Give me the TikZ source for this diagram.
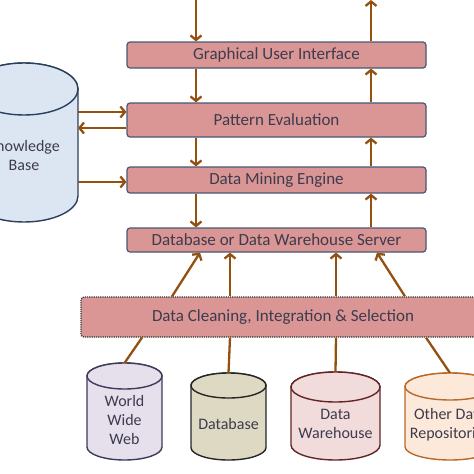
\documentclass[tikz,border=0pt]{standalone}
\usepackage{fontspec}
\setmainfont{Carlito}
\usetikzlibrary{arrows.meta}

\definecolor{txt}{HTML}{3E3B4E}
\definecolor{brownline}{HTML}{94500F}
\definecolor{layerfill}{HTML}{D99694}
\definecolor{layerline}{HTML}{4A5674}
\definecolor{kbfill}{HTML}{DCE6F2}
\definecolor{kbline}{HTML}{2A3F5C}
\definecolor{webfill}{HTML}{E5E0EC}
\definecolor{webline}{HTML}{3F3A5A}
\definecolor{dbfill}{HTML}{DDD9C3}
\definecolor{dbline}{HTML}{262626}
\definecolor{dwfill}{HTML}{F2DCDB}
\definecolor{dwline}{HTML}{632523}
\definecolor{orfill}{HTML}{FDE9D9}
\definecolor{orline}{HTML}{B8692A}

\begin{document}
\begin{tikzpicture}[x=1pt,y=-1pt]

\def\lx{196}
\def\rx{371}

\tikzset{
        every node/.style={font=\fontsize{17}{19}\selectfont,text=txt},
        flow/.style={draw=brownline,line width=2.3pt,-{Straight Barb[length=4.5pt,width=11pt]}},
        link/.style={draw=brownline,line width=2.3pt},
        layer/.style={draw=layerline,fill=layerfill,rounded corners=3pt,line width=1.2pt,minimum width=299pt,inner sep=0pt},
        store/.style={line width=1.4pt},
        storetext/.style={align=center,inner sep=0pt,font=\fontsize{16}{19}\selectfont}
}

% drum: name, x, top, bottom, half width, end radius, colours
\def\drum#1#2#3#4#5#6#7{
     \path[store,#7] (#2-#5,#3+#6) -- (#2-#5,#4-#6) arc[start angle=180,end angle=360,x radius=#5pt,y radius=#6pt]
          -- (#2+#5,#3+#6) arc[start angle=0,end angle=180,x radius=#5pt,y radius=#6pt] -- cycle;
     \path[store,#7] (#2,#3+#6) ellipse[x radius=#5pt,y radius=#6pt];
     \coordinate (#1 top) at (#2,#3);
     \coordinate (#1 east) at (#2+#5,#3/2+#4/2);
}

\useasboundingbox (0,0) rectangle (474,474);
\clip (0,0) rectangle (474,474);

% layers
\node[layer,minimum height=26pt] (GUI) at (276.5,55) {Graphical User Interface};
\node[layer,minimum height=34pt] (PE) at (276.5,120) {Pattern Evaluation};
\node[layer,minimum height=26pt] (DME) at (276.5,180) {Data Mining Engine};
\node[layer,minimum height=24pt] (DWS) at (276.5,240) {Database or Data Warehouse Server};
\node[layer,densely dotted,draw=black!80,minimum width=404pt,minimum height=40pt] (DC) at (283,317) {Data Cleaning, Integration \& Selection};

% stores
\drum{KB}{24}{63}{222}{54}{26}{fill=kbfill,draw=kbline}
\drum{WWW}{124.5}{363}{460}{37.5}{13}{fill=webfill,draw=webline}
\drum{DB}{228.5}{373}{460}{37.5}{12.5}{fill=dbfill,draw=dbline}
\drum{DW}{335.5}{372}{460}{44.5}{15}{fill=dwfill,draw=dwline}
\drum{OR}{450}{373}{460}{45}{13.5}{fill=orfill,draw=orline}

\node[storetext] (KB) at (24,156) {Knowledge\\Base};
\node[storetext] (WWW) at (124.5,420) {World\\Wide\\Web};
\node[storetext] (DB) at (228.5,424) {Database};
\node[storetext] (DW) at (335.5,424) {Data\\Warehouse};
\node[storetext] (OR) at (450,425) {Other Data\\Repositories};

\coordinate (L) at (\lx,0);
\coordinate (R) at (\rx,0);

% down the left
\draw[flow] (L) -- (GUI.north -| L);
\draw[flow] (GUI.south -| L) -- (PE.north -| L);
\draw[flow] (PE.south -| L) -- (DME.north -| L);
\draw[flow] (DME.south -| L) -- (DWS.north -| L);

% up the right
\draw[flow] (DWS.north -| R) -- (DME.south -| R);
\draw[flow] (DME.north -| R) -- (PE.south -| R);
\draw[flow] (PE.north -| R) -- (GUI.south -| R);
\draw[flow] (GUI.north -| R) -- (R);

% knowledge base
\draw[flow] (KB east |- 0,112) -- (PE.west |- 0,112);
\draw[flow] (PE.west |- 0,128) -- (KB east |- 0,128);
\draw[flow] (KB east |- 0,182) -- (DME.west |- 0,182);

% cleaning to server
\draw[flow] (DC.north -| 172,0) -- (DWS.south -| 200,0);
\draw[flow] (DC.north -| 230,0) -- (DWS.south -| 230,0);
\draw[flow] (DC.north -| 336,0) -- (DWS.south -| 336,0);
\draw[flow] (DC.north -| 405,0) -- (DWS.south -| 377,0);

% sources to cleaning
\draw[link] (WWW top) -- (DC.south -| 142,0);
\draw[link] (DB top) -- (DC.south -| 230,0);
\draw[link] (DW top) -- (DC.south -| 336,0);
\draw[link] (OR top) -- (DC.south -| 426,0);

\end{tikzpicture}
\end{document}
